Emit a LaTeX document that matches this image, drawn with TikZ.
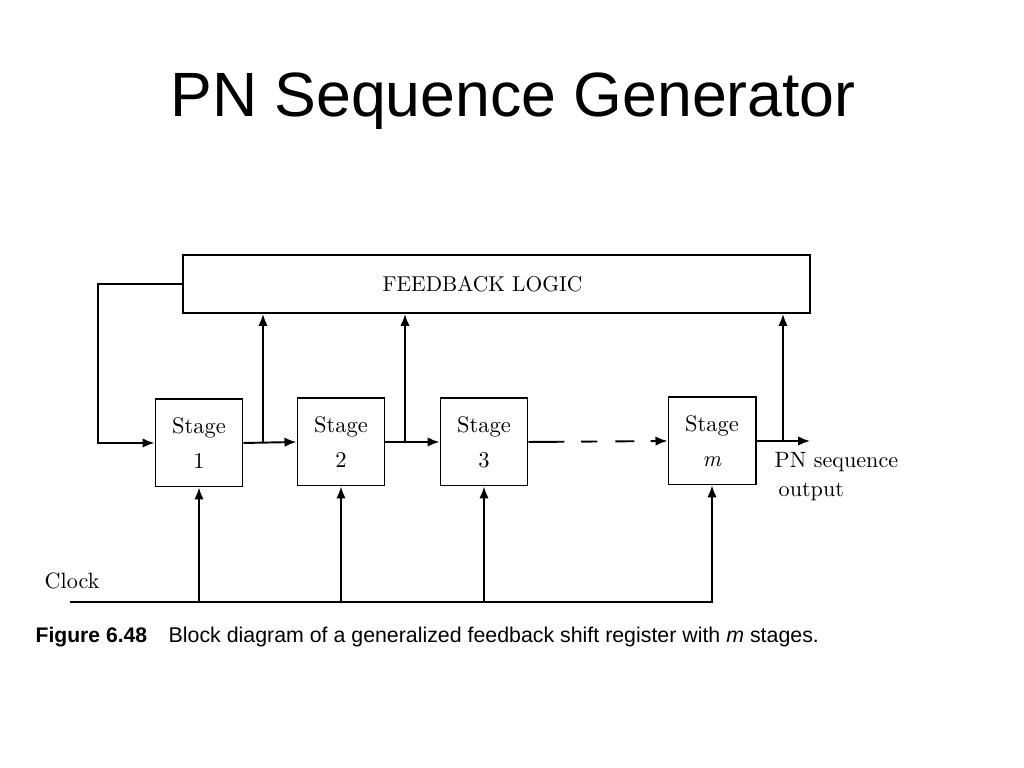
\documentclass[tikz,border=0pt]{standalone}
\usepackage{fontspec}
\newfontfamily\titlefont{Liberation Sans}
\newfontfamily\diagfont{lmroman10-regular.otf}[ItalicFont=lmroman10-italic.otf]
\usetikzlibrary{arrows.meta}

\tikzset{
  stagebox/.style={draw, line width=0.55pt, minimum width=0.87cm, minimum height=0.87cm,
    align=center, font=\diagfont\fontsize{6.4}{10}\selectfont, inner sep=0pt},
  logicbox/.style={draw, line width=0.55pt, minimum width=6.27cm, minimum height=0.58cm,
    font=\diagfont\fontsize{6.1}{7}\selectfont},
  lbl/.style={font=\diagfont\fontsize{6.3}{8}\selectfont, inner sep=0pt},
  wire/.style={line width=0.55pt},
  arr/.style={wire, -{Latex[length=0.12cm, width=0.095cm]}}
}

\begin{document}
\begin{tikzpicture}[x=0.01cm, y=-0.01cm]
    % Cadre de la page
    \useasboundingbox (0,0) rectangle (1024,768);

    % Titre
    \node[anchor=base, inner sep=0pt, font=\titlefont\fontsize{17.8}{20}\selectfont] (title) at (513,117) {PN Sequence Generator};

    % Blocs
    \node[logicbox] (fb) at (496.5,284) {FEEDBACK LOGIC\kern8pt};
    \node[stagebox] (s1) at (199,443) {Stage\\1};
    \node[stagebox] (s2) at (341,442) {Stage\\2};
    \node[stagebox] (s3) at (484,442) {Stage\\3};
    \node[stagebox] (sm) at (712,441) {Stage\\\textit{m}};

    % Points de branchement
    \coordinate (t1) at (263,443);
    \coordinate (t2) at (405,442);
    \coordinate (t3) at (783,441);
    \coordinate (out) at (810,441);
    \coordinate (clk) at (70,602);
    \coordinate (clkend) at (713,602);

    % Boucle de retour
    \draw[arr] (fb.west) -- ++(-84,0) |- (s1.west);

    % Liaisons entre etages
    \draw[arr] (s1.east) -- (s2.west);
    \draw[arr] (s2.east) -- (s3.west);
    \draw[arr, dash pattern=on 10.2pt off 4.8pt on 4.6pt off 5.1pt on 5.4pt off 4.6pt on 9pt] (s3.east) -- (sm.west);
    \draw[arr] (sm.east) -- (out);

    % Vers la logique
    \draw[arr] (t1) -- (t1 |- fb.south);
    \draw[arr] (t2) -- (t2 |- fb.south);
    \draw[arr] (t3) -- (t3 |- fb.south);

    % Horloge
    \draw[wire] (clk) -- (clkend);
    \draw[arr] (s1.south |- clk) -- (s1.south);
    \draw[arr] (s2.south |- clk) -- (s2.south);
    \draw[arr] (s3.south |- clk) -- (s3.south);
    \draw[arr] (sm.south |- clk) -- (sm.south);
    \node[lbl, anchor=base west] (clklbl) at (44,589) {Clock};

    % Sortie
    \node[lbl, anchor=base west] (pn) at (774,468) {PN sequence};
    \node[lbl, anchor=base west] (pnout) at (778,497) {output};

    % Legende
    \node[anchor=base west, inner sep=0pt, font=\titlefont\bfseries\fontsize{6}{7}\selectfont] (fig) at (35,643) {Figure 6.48};
    \node[anchor=base west, inner sep=0pt, font=\titlefont\fontsize{6.07}{7}\selectfont] (cap) at (168,643) {Block diagram of a generalized feedback shift register with \textit{m} stages.};
\end{tikzpicture}
\end{document}
